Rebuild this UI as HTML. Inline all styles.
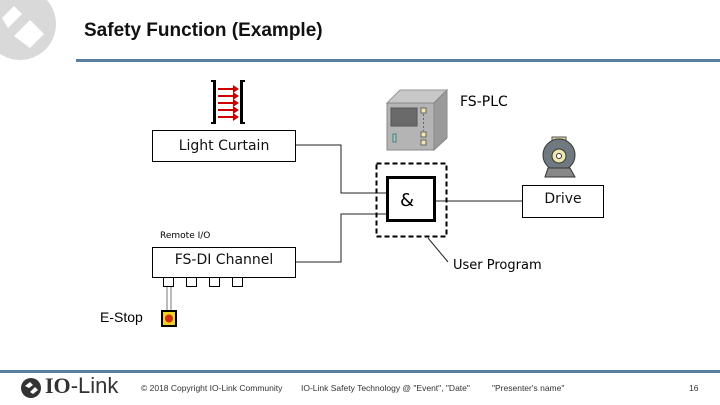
<!DOCTYPE html>
<html><head><style>
body{margin:0;width:720px;height:405px;overflow:hidden;background:#fff;position:relative;font-family:"DejaVu Sans","Liberation Sans",sans-serif}
.a{position:absolute}
.box{position:absolute;border:1px solid #000;box-sizing:border-box;text-align:center;font-size:14px;color:#111}
</style></head><body>
<svg class="a" style="left:0;top:0" width="720" height="405">
 <circle cx="20" cy="24" r="36" fill="#d9d9d9"/>
 <path d="M2 18 L14 6 L22 14 L8 28Z M14 36 L30 20 L44 34 L30 48Z" fill="#fff"/>
 <rect x="76" y="59" width="644" height="3" fill="#5a7fa3"/>
 <rect x="0" y="370" width="720" height="3" fill="#5a7fa3"/>
 <!-- light curtain -->
 <rect x="213" y="80" width="3" height="44" fill="#000"/><rect x="240" y="80" width="3" height="44" fill="#000"/>
 <rect x="211" y="80" width="5" height="2" fill="#000"/><rect x="211" y="122" width="5" height="2" fill="#000"/>
 <rect x="240" y="80" width="5" height="2" fill="#000"/><rect x="240" y="122" width="5" height="2" fill="#000"/>
 <g stroke="#c00" stroke-width="2" fill="#c00">
  <line x1="218" y1="89" x2="234" y2="89"/><line x1="218" y1="96" x2="234" y2="96"/><line x1="218" y1="103" x2="234" y2="103"/><line x1="218" y1="110" x2="234" y2="110"/><line x1="218" y1="117" x2="234" y2="117"/>
 </g>
 <g fill="#c00"><path d="M233 85l6 4-6 4z M233 92l6 4-6 4z M233 99l6 4-6 4z M233 106l6 4-6 4z M233 113l6 4-6 4z"/></g>
 <!-- PLC -->
 <path d="M387 103 L400 90 L447 90 L434 103Z" fill="#c8c8c8" stroke="#999"/>
 <path d="M434 103 L447 90 L447 138 L434 150Z" fill="#9a9a9a" stroke="#888"/>
 <rect x="387" y="103" width="47" height="47" fill="#b4b4b4" stroke="#888"/>
 <rect x="391" y="108" width="26" height="18" fill="#6a6a6a" stroke="#555"/>
 <rect x="421" y="108" width="5" height="5" fill="#eee8b0" stroke="#666"/>
 <rect x="421" y="132" width="5" height="5" fill="#eee8b0" stroke="#666"/>
 <rect x="421" y="140" width="5" height="5" fill="#eee8b0" stroke="#666"/>
 <line x1="423.5" y1="114" x2="423.5" y2="131" stroke="#666" stroke-dasharray="2,2"/>
 <rect x="393" y="134" width="3" height="8" fill="#9cc" stroke="#577"/>
 <!-- motor -->
 <rect x="552" y="137" width="14" height="6" fill="#ddd8a0" stroke="#555"/>
 <circle cx="559" cy="155" r="16" fill="#707880" stroke="#333"/>
 <circle cx="559" cy="156" r="7" fill="#eee8b0" stroke="#333"/>
 <circle cx="559" cy="156" r="2.5" fill="#fff" stroke="#333"/>
 <path d="M548 168 L545 177 L575 177 L570 168Z" fill="#888" stroke="#333"/>
 <!-- connectors -->
 <g stroke="#222" fill="none" stroke-width="1">
  <polyline points="295,145 341,145 341,193 387,193" />
  <polyline points="295,262 341,262 341,214 387,214" />
  <line x1="435" y1="201" x2="522" y2="201"/>
  <line x1="428" y1="238" x2="448" y2="262"/>
 </g>
 <rect x="376.5" y="163.5" width="70" height="73" fill="none" stroke="#000" stroke-width="2" stroke-dasharray="5,3"/>
 <rect x="387.5" y="177.5" width="47" height="43" fill="#fff" stroke="#000" stroke-width="3"/>
 <!-- ports -->
 <g fill="#fff" stroke="#000">
  <rect x="163.5" y="277.5" width="10" height="9"/><rect x="186.5" y="277.5" width="10" height="9"/><rect x="209.5" y="277.5" width="10" height="9"/><rect x="232.5" y="277.5" width="10" height="9"/>
 </g>
 <line x1="167" y1="287" x2="167" y2="311" stroke="#777"/><line x1="171" y1="287" x2="171" y2="311" stroke="#777"/>
 <rect x="162" y="311" width="14" height="15" fill="#f0d020" stroke="#000" stroke-width="2"/>
 <circle cx="169" cy="318.5" r="4" fill="#d03010"/>
</svg>
<div class="a" style="left:84px;top:20px;font-size:19px;font-weight:bold;font-family:'Liberation Sans',sans-serif;color:#111">Safety Function (Example)</div>
<div class="box" style="left:152px;top:130px;width:144px;height:32px;line-height:30px">Light Curtain</div>
<div class="box" style="left:152px;top:247px;width:144px;height:31px;line-height:24px">FS-DI Channel</div>
<div class="box" style="left:522px;top:185px;width:82px;height:33px;line-height:27px">Drive</div>
<div class="a" style="left:400px;top:190px;font-size:18px">&amp;</div>
<div class="a" style="left:460px;top:94px;font-size:14px">FS-PLC</div>
<div class="a" style="left:453px;top:258px;font-size:13px">User Program</div>
<div class="a" style="left:160px;top:231px;font-size:9px">Remote I/O</div>
<div class="a" style="left:100px;top:309px;font-size:14px;font-family:'Liberation Sans',sans-serif">E-Stop</div>
<svg class="a" style="left:20px;top:377px" width="22" height="22"><circle cx="11" cy="11" r="10" fill="#333"/><path d="M5 9l5-4 3 3-4 3z M10 15l5-5 3 3-5 4z" fill="#fff"/></svg>
<div class="a" style="left:45px;top:373px;font-size:22px;font-family:'Liberation Sans',sans-serif;color:#333"><b style="font-family:'Liberation Serif',serif">IO</b>-Link</div>
<div class="a" style="left:141px;top:383px;font-size:8.5px;color:#333;font-family:'Liberation Sans',sans-serif;white-space:nowrap">© 2018 Copyright IO-Link Community</div>
<div class="a" style="left:301px;top:383px;font-size:8.5px;color:#333;font-family:'Liberation Sans',sans-serif;white-space:nowrap">IO-Link Safety Technology @ "Event", "Date"</div>
<div class="a" style="left:492px;top:383px;font-size:8.5px;color:#333;font-family:'Liberation Sans',sans-serif;white-space:nowrap">"Presenter's name"</div>
<div class="a" style="left:689px;top:383px;font-size:8.5px;color:#333;font-family:'Liberation Sans',sans-serif">16</div>
</body></html>
